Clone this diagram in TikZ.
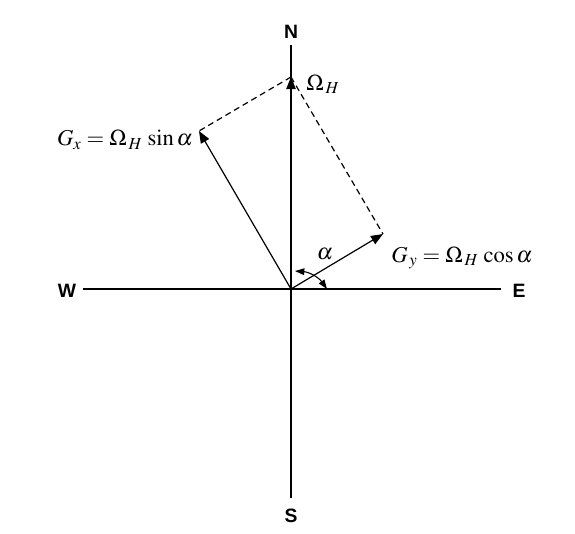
\documentclass[tikz,border=0pt]{standalone}
\usepackage{mathptmx}
\usepackage{fontspec}
\newfontfamily\compassfont{Liberation Sans}
\usetikzlibrary{arrows.meta}
\begin{document}
\begin{tikzpicture}[x=0.75pt,y=-0.75pt,
  axis/.style={line width=0.9pt},
  vec/.style={line width=0.9pt,-{Triangle[length=9pt,width=7pt]}},
  dash line/.style={line width=0.9pt,dash pattern=on 4.5pt off 3pt},
  compass/.style={font=\compassfont\bfseries\fontsize{14.5}{16}\selectfont,inner sep=0pt},
  eqlabel/.style={font=\fontsize{17}{19}\selectfont,inner sep=0pt}]
\useasboundingbox (0,0) rectangle (575,533);
% axes
\coordinate (O) at (291,289);
\coordinate (top) at (291,45);
\coordinate (bot) at (291,498);
\coordinate (lft) at (83,289);
\coordinate (rgt) at (501,289);
\draw[axis] (top) -- (bot);
\draw[axis] (lft) -- (rgt);
\node[compass] (N) at (291,32) {N};
\node[compass] (S) at (291,516) {S};
\node[compass] (W) at (67,291) {W};
\node[compass] (E) at (519,291) {E};
% vectors
\coordinate (OH) at (291,77);
\coordinate (GX) at (199,131);
\coordinate (GY) at (383,234);
\draw[dash line] (OH) -- (GX);
\draw[dash line] (OH) -- (GY);
\draw[vec] (O) -- (OH);
\draw[vec] (O) -- (GX);
\draw[vec] (O) -- (GY);
% angle
\coordinate (a1) at (295,271);
\coordinate (a2) at (327,289);
\draw[line width=0.8pt,{Triangle[length=7pt,width=5pt]}-{Triangle[length=7pt,width=5pt]}] (a1) to[bend left=25] (a2);
% labels
\node[eqlabel] (lOH) at (323,84) {$\Omega_{\,H}$};
\node[eqlabel] (lal) at (325,254) {$\alpha$};
\node[eqlabel,anchor=west] (lGY) at (391,258) {$G_{\,y}=\Omega_{\,H}\,\cos\alpha$};
\node[eqlabel,anchor=east] (lGX) at (193,140) {$G_x=\Omega_{\,H}\,\sin\alpha$};
\end{tikzpicture}
\end{document}
